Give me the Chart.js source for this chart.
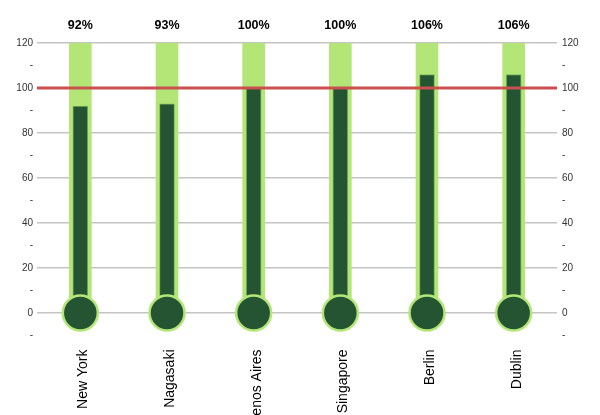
<!DOCTYPE html>
<html>
<head>
<meta charset="utf-8">
<script src="https://cdn.jsdelivr.net/npm/chart.js@4.4.1/dist/chart.umd.min.js"></script>
<style>
  html, body { margin: 0; padding: 0; background: #fff; }
  #wrap { width: 600px; height: 415px; }
</style>
</head>
<body>
<div id="wrap"><canvas id="myChart" width="600" height="415"></canvas></div>
<script>
// chart data
var cities = ['New York', 'Nagasaki', 'Buenos Aires', 'Singapore', 'Berlin', 'Dublin'];
var percents = [92, 93, 100, 100, 106, 106];
var tubeTop = [120, 120, 120, 120, 120, 120];
var bulbs = [0, 0, 0, 0, 0, 0];
var target = 100;

var darkGreen = '#245432';
var lightGreen = '#b3e677';

// red target line on top of the bars
var targetLine = {
  id: 'targetLine',
  afterDatasetsDraw: function(chart) {
    var ctx = chart.ctx, area = chart.chartArea;
    var y = chart.scales.y.getPixelForValue(target);
    ctx.save();
    ctx.strokeStyle = '#c9504f';
    ctx.lineWidth = 3;
    ctx.beginPath();
    ctx.moveTo(area.left, y);
    ctx.lineTo(area.right, y);
    ctx.stroke();
    ctx.restore();
  }
};

// percent labels above each tube
var topLabels = {
  id: 'topLabels',
  afterDraw: function(chart) {
    var ctx = chart.ctx;
    var x = chart.scales.x;
    ctx.save();
    ctx.font = 'bold 12.5px "Liberation Sans", Arial, sans-serif';
    ctx.fillStyle = '#000';
    ctx.textAlign = 'center';
    ctx.textBaseline = 'middle';
    percents.forEach(function(v, i) {
      ctx.fillText(v + '%', x.getPixelForValue(i), 26);
    });
    ctx.restore();
  }
};

function tickText(value) {
  return value % 20 === 0 ? value : '-';
}

function gridColor(c) {
  return (c.tick && c.tick.value % 20 === 0) ? '#c4c4c4' : 'rgba(0,0,0,0)';
}

var ctx = document.getElementById('myChart').getContext('2d');
var chart = new Chart(ctx, {
  type: 'bar',
  data: {
    labels: cities,
    datasets: [{
      type: 'line',
      data: bulbs,
      showLine: false,
      pointRadius: 17.5,
      pointHoverRadius: 17.5,
      pointBorderWidth: 2.5,
      pointBackgroundColor: darkGreen,
      pointBorderColor: lightGreen,
      clip: false,
      order: 0
    }, {
      data: percents,
      backgroundColor: darkGreen,
      borderColor: '#7fb35a',
      borderWidth: 1,
      barThickness: 15,
      grouped: false,
      order: 1
    }, {
      data: tubeTop,
      backgroundColor: lightGreen,
      borderWidth: 0,
      barThickness: 22,
      grouped: false,
      order: 2
    }]
  },
  options: {
    responsive: false,
    animation: false,
    layout: { padding: { top: 43, left: 0, right: 0, bottom: 0 } },
    plugins: {
      legend: { display: false },
      tooltip: { enabled: false }
    },
    scales: {
      x: {
        grid: { display: false },
        border: { display: false },
        ticks: {
          minRotation: 90,
          maxRotation: 90,
          autoSkip: false,
          padding: 6,
          labelOffset: 3,
          color: '#000',
          font: { family: '"Liberation Sans", Arial, sans-serif', size: 14 }
        },
        afterFit: function(s) { s.height = 79.5; }
      },
      y: {
        min: -10,
        max: 120,
        border: { display: false },
        grid: { color: gridColor, drawTicks: false, lineWidth: 1.5 },
        ticks: {
          stepSize: 10,
          padding: 4,
          color: '#333',
          callback: tickText,
          font: { family: '"Liberation Sans", Arial, sans-serif', size: 10 }
        },
        afterFit: function(s) { s.width = 37; }
      },
      y2: {
        position: 'right',
        min: -10,
        max: 120,
        border: { display: false },
        grid: { display: false, drawTicks: false },
        ticks: {
          stepSize: 10,
          padding: 5,
          color: '#333',
          callback: tickText,
          font: { family: '"Liberation Sans", Arial, sans-serif', size: 10 }
        },
        afterFit: function(s) { s.width = 43; }
      }
    }
  },
  plugins: [targetLine, topLabels]
});
</script>
</body>
</html>
